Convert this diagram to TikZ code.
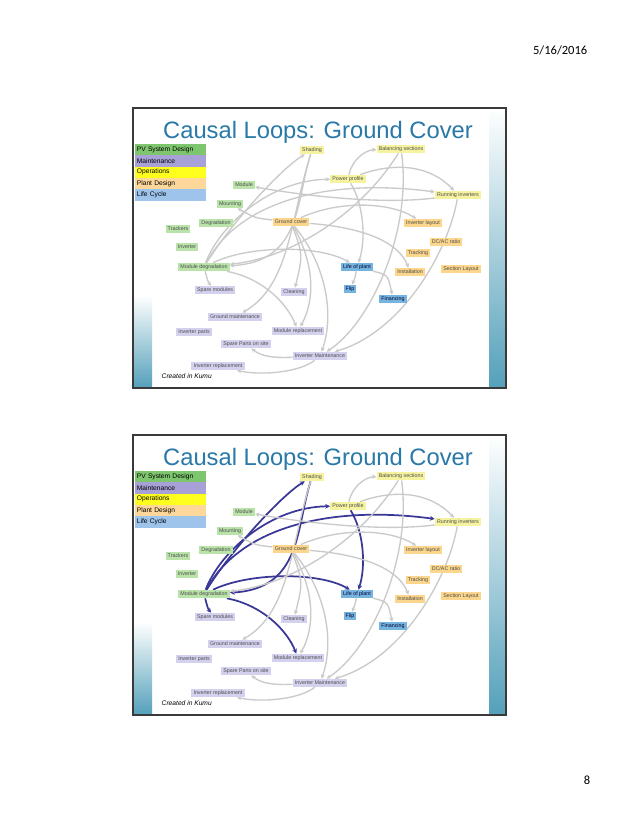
\documentclass[tikz,border=0pt]{standalone}
\usepackage{fontspec}
\setmainfont{Liberation Sans}
\newfontfamily\pagefont{Carlito}
\usetikzlibrary{arrows.meta}

\definecolor{titleblue}{RGB}{40,121,168}
\definecolor{slideteal}{RGB}{84,160,186}
\definecolor{slideedge}{RGB}{58,58,58}
\definecolor{loopgray}{RGB}{202,202,202}
\definecolor{loopblue}{RGB}{58,56,150}
% legend swatches
\definecolor{pvkey}{RGB}{126,198,110}
\definecolor{maintkey}{RGB}{168,161,215}
\definecolor{opskey}{RGB}{255,255,30}
\definecolor{plantkey}{RGB}{254,216,154}
\definecolor{lifekey}{RGB}{158,196,236}
% element fills
\definecolor{pvfill}{RGB}{186,227,170}
\definecolor{maintfill}{RGB}{211,209,238}
\definecolor{opsfill}{RGB}{246,243,160}
\definecolor{plantfill}{RGB}{251,214,140}
\definecolor{lifefill}{RGB}{118,180,224}

\pgfdeclarelayer{slideback}
\pgfdeclarelayer{links}
\pgfsetlayers{slideback,links,main}

\tikzset{
  element/.style={font=\fontsize{4}{4}\selectfont, inner xsep=1.6pt, inner ysep=1.1pt, text height=3pt, text depth=0.9pt, text=black!70},
  pvel/.style={element, fill=pvfill},
  maintel/.style={element, fill=maintfill},
  opsel/.style={element, fill=opsfill},
  plantel/.style={element, fill=plantfill},
  lifeel/.style={element, fill=lifefill, text=black!80!blue},
  keyrow/.style={anchor=north west, font=\fontsize{5}{5}\selectfont, text width=50pt, minimum height=8.55pt, inner xsep=1.6pt, inner ysep=0pt, align=left},
  link/.style={draw=loopgray, line width=1pt, -{Stealth[length=3.2pt, width=3.2pt]}},
  hot/.style={draw=loopblue, line width=1.3pt, -{Stealth[length=3.6pt, width=3.6pt]}}
}

% one slide: #1 = name prefix, #2 = style of the module degradation loops
\newcommand{\groundslide}[2]{%
  % Slide frame
  \begin{pgfonlayer}{slideback}
    \fill[white] (133,108) rectangle (506,388);
    \shade[top color=white, bottom color=slideteal] (489,108) rectangle (506,388);
    \shade[top color=white, bottom color=slideteal] (133,295) rectangle (152,388);
    \draw[slideedge, line width=1.1pt] (133,108) rectangle (506,388);
  \end{pgfonlayer}
  \node[anchor=base, text=titleblue, font=\fontsize{17.8}{20}\selectfont] (#1title) at (318,138) {Causal Loops: Ground Cover};
  % Legend
  \foreach \lab/\col [count=\i] in {PV System Design/pvkey, Maintenance/maintkey, Operations/opskey, Plant Design/plantkey, Life Cycle/lifekey} {
    \node[keyrow, fill=\col] (#1key\i) at (134.5,{143.5+11.4*(\i-1)}) {\lab};
  }
  % Elements
  \node[opsel] (#1shade) at (312,150) {Shading};
  \node[opsel] (#1balance) at (401,149) {Balancing sections};
  \node[opsel] (#1power) at (348,179) {Power profile};
  \node[pvel] (#1module) at (244,185) {Module};
  \node[opsel] (#1run) at (458,195) {Running inverters};
  \node[pvel] (#1mount) at (230,204) {Mounting};
  \node[pvel] (#1degr) at (216,223) {Degradation};
  \node[pvel] (#1trackers) at (178,229) {Trackers};
  \node[plantel] (#1ground) at (291,222) {Ground cover};
  \node[plantel] (#1invlay) at (423,223) {Inverter layout};
  \node[plantel] (#1dcac) at (446,242) {DC/AC ratio};
  \node[plantel] (#1tracking) at (418,253) {Tracking};
  \node[pvel] (#1inv) at (187,247) {Inverter};
  \node[pvel] (#1md) at (204,267) {Module degradation};
  \node[lifeel] (#1life) at (357,267) {Life of plant};
  \node[plantel] (#1install) at (410,272) {Installation};
  \node[plantel] (#1section) at (461,269) {Section Layout};
  \node[maintel] (#1spare) at (215,290) {Spare modules};
  \node[maintel] (#1clean) at (294,292) {Cleaning};
  \node[lifeel] (#1flip) at (350,289) {Flip};
  \node[lifeel] (#1fin) at (393,299) {Financing};
  \node[maintel] (#1gmaint) at (235,317) {Ground maintenance};
  \node[maintel] (#1invparts) at (194,332) {Inverter parts};
  \node[maintel] (#1modrep) at (298,331) {Module replacement};
  \node[maintel] (#1sparesite) at (246,344) {Spare Parts on site};
  \node[maintel] (#1invmaint) at (320,356) {Inverter Maintenance};
  \node[maintel] (#1invrep) at (218,366) {Inverter replacement};
  \node[anchor=base west, font=\fontsize{5}{5}\selectfont\itshape] (#1kumu) at (157,378.5) {Created in Kumu};
  % Connections
  \begin{pgfonlayer}{links}
    % loops through module degradation
    \draw[#2] (#1md) .. controls (232,222) and (282,168) .. (#1shade);
    \draw[#2] (#1shade) .. controls (296,200) and (302,262) .. (#1md);
    \draw[#2] (#1md) .. controls (220,225) and (270,180) .. (#1power);
    \draw[#2] (#1md) .. controls (240,200) and (330,178) .. (#1run);
    \draw[#2] (#1md) .. controls (250,245) and (320,245) .. (#1life);
    \draw[#2] (#1md) .. controls (208,282) .. (#1spare);
    \draw[#2] (#1md) .. controls (262,278) and (287,303) .. (#1modrep);
    \draw[#2] (#1power) .. controls (364,205) and (366,240) .. (#1life);
    % the rest
    \draw[link] (#1balance) .. controls (360,215) and (290,258) .. (#1md);
    \draw[link] (#1ground) .. controls (255,218) .. (#1mount);
    \draw[link] (#1run) .. controls (380,205) and (300,195) .. (#1module);
    \draw[link] (#1power) .. controls (395,162) and (430,165) .. (#1run);
    \draw[link] (#1power) .. controls (352,160) and (365,150) .. (#1balance);
    \draw[link] (#1ground) .. controls (340,200) and (390,202) .. (#1invlay);
    \draw[link] (#1ground) .. controls (370,228) and (400,245) .. (#1install);
    \draw[link] (#1ground) .. controls (303,255) .. (#1clean);
    \draw[link] (#1ground) .. controls (330,270) and (333,320) .. (#1invmaint);
    \draw[link] (#1ground) .. controls (315,265) and (315,300) .. (#1modrep);
    \draw[link] (#1balance) .. controls (412,230) and (372,322) .. (#1invmaint);
    \draw[link] (#1run) .. controls (448,252) and (402,332) .. (#1invmaint);
    \draw[link] (#1life) .. controls (355,278) .. (#1flip);
    \draw[link] (#1life) .. controls (388,275) .. (#1fin);
    \draw[link] (#1invmaint) .. controls (275,358) and (262,357) .. (#1sparesite);
    \draw[link] (#1invmaint) .. controls (300,372) and (262,376) .. (#1invrep);
    \draw[link] (#1shade) .. controls (290,220) and (290,285) .. (#1gmaint);
  \end{pgfonlayer}
}

\begin{document}
\begin{tikzpicture}[x=0.75pt, y=-0.75pt]
  \useasboundingbox (0,0) rectangle (638,826);
  \begin{pgfonlayer}{slideback}
    \fill[white] (0,0) rectangle (638,826);
  \end{pgfonlayer}
  % Page header and number
  \node[anchor=base east, font=\pagefont\fontsize{9.4}{10}\selectfont] (date) at (592,54) {5/16/2016};
  \node[anchor=base, font=\pagefont\fontsize{9.4}{10}\selectfont] (pageno) at (587,784) {8};
  % Upper slide, all links gray
  \begin{scope}
    \groundslide{a}{link}
  \end{scope}
  % Lower slide, loops highlighted
  \begin{scope}[shift={(0,327)}]
    \groundslide{b}{hot}
  \end{scope}
\end{tikzpicture}
\end{document}
